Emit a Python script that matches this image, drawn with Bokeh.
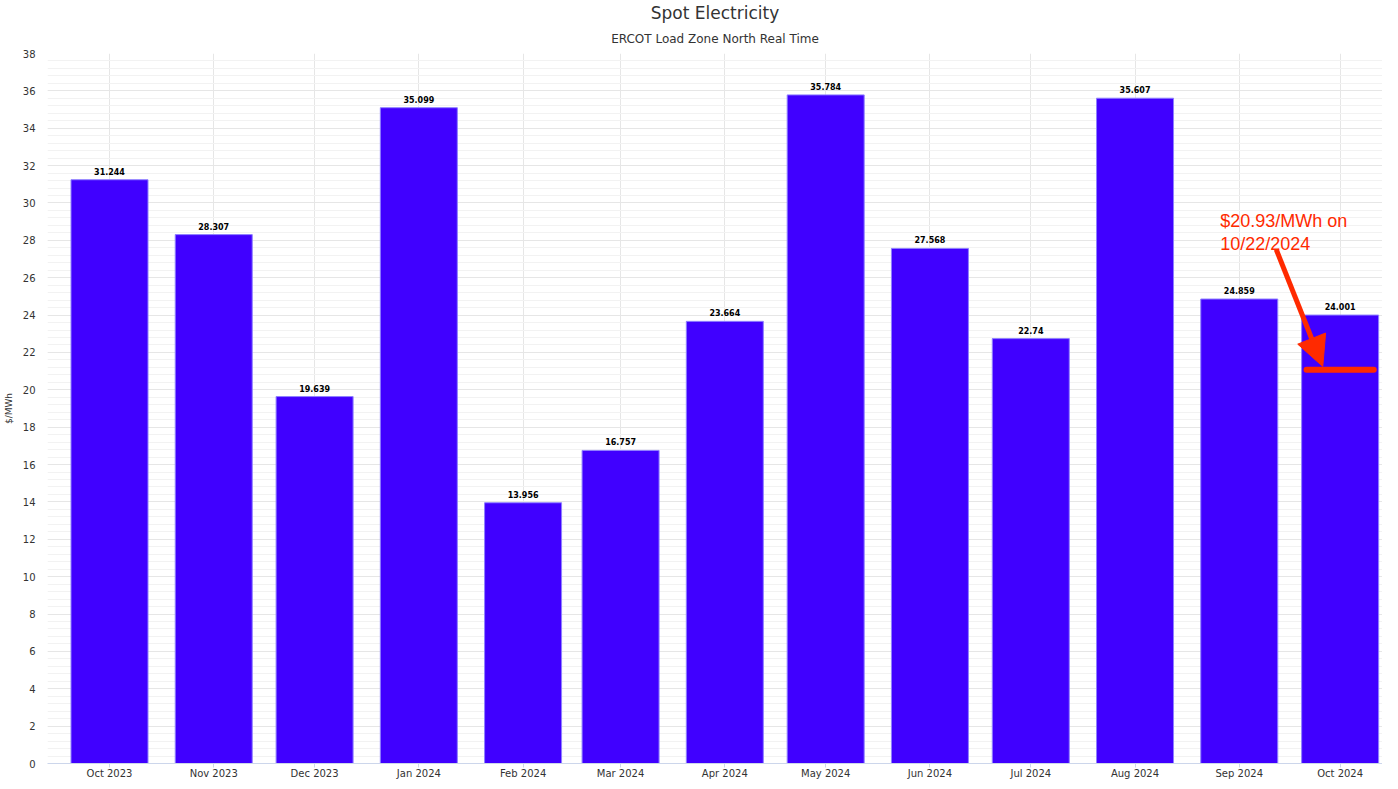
import pandas as pd
from bokeh.plotting import figure
from bokeh.models import (ColumnDataSource, Title, Label, Arrow, NormalHead,
                          SingleIntervalTicker, MonthsTicker, DatetimeTickFormatter, Range1d)
from bokeh.core.properties import value
from bokeh.embed import file_html
from bokeh.resources import INLINE

# data
months = ["2023-10-01", "2023-11-01", "2023-12-01", "2024-01-01", "2024-02-01", "2024-03-01", "2024-04-01",
          "2024-05-01", "2024-06-01", "2024-07-01", "2024-08-01", "2024-09-01", "2024-10-01"]
prices = [31.244, 28.307, 19.639, 35.099, 13.956, 16.757, 23.664, 35.784, 27.568, 22.74, 35.607, 24.859, 24.001]

# annotation (spot price of 10/22/2024, drawn over the last bar)
note_lines = ["$20.93/MWh on", "10/22/2024"]
note_x = "2024-08-26 08:00"
note_y = [29.03, 27.78]
spot_level = 21.07
arrow_from = ("2024-09-12 00:00", 27.51)
arrow_to = ("2024-09-25 20:00", 21.25)

DAY = 86400000
RED = "#ff2a00"
BAR = "#4000ff"
FONT = "DejaVu Sans"

dates = pd.to_datetime(months)
src = ColumnDataSource({"x": dates, "y": prices, "label": [str(v) for v in prices]})

p = figure(width=1382, height=781, x_axis_type="datetime", title=None,
           toolbar_location=None, output_backend="svg",
           min_border_left=40, min_border_right=0, min_border_top=46, min_border_bottom=18)
p.x_range = Range1d(dates[0] - pd.Timedelta(days=18.44), dates[0] + pd.Timedelta(days=378.6))
p.y_range = Range1d(0, 38)
p.outline_line_color = None
p.background_fill_color = "white"

# titles
p.add_layout(Title(text="ERCOT Load Zone North Real Time", align="center", text_font=FONT,
                   text_font_size="12px", text_font_style="normal", text_color="#333333", standoff=15), "above")
p.add_layout(Title(text="Spot Electricity", align="center", text_font=FONT,
                   text_font_size="17px", text_font_style="normal", text_color="#333333", standoff=0), "above")

# bars + value labels
p.vbar(x="x", top="y", width=22.9 * DAY, source=src, fill_color=BAR, line_color="#8f80ff", line_width=1)
p.text(x="x", y="y", text="label", source=src, text_align="center", text_baseline="bottom", y_offset=-5,
       text_font=value(FONT), text_font_size="8px", text_font_style="bold", text_color="#000000")

# axes
p.yaxis.ticker = SingleIntervalTicker(interval=2, num_minor_ticks=5)
p.yaxis.axis_label = "$/MWh"
p.yaxis.axis_label_text_font = FONT
p.yaxis.axis_label_text_font_size = "9px"
p.yaxis.axis_label_text_font_style = "normal"
p.yaxis.axis_label_text_color = "#333333"
p.yaxis.axis_label_standoff = 6
p.yaxis.axis_line_color = None
p.yaxis.major_tick_line_color = None
p.yaxis.major_tick_out = 0
p.yaxis.major_tick_in = 0
p.yaxis.minor_tick_line_color = None
p.yaxis.minor_tick_out = 0
p.yaxis.major_label_standoff = 12
p.yaxis.major_label_text_font = FONT
p.yaxis.major_label_text_font_size = "10px"
p.yaxis.major_label_text_color = "#333333"

p.xaxis.ticker = MonthsTicker(months=list(range(12)))
p.xaxis.formatter = DatetimeTickFormatter(months="%b %Y", days="%b %Y")
p.xaxis.axis_line_color = "#ccd6eb"
p.xaxis.major_tick_line_color = "#ccd6eb"
p.xaxis.major_tick_out = 4
p.xaxis.major_tick_in = 0
p.xaxis.minor_tick_line_color = None
p.xaxis.minor_tick_out = 0
p.xaxis.major_label_standoff = 0
p.xaxis.major_label_text_line_height = 1.0
p.xaxis.major_label_text_font = FONT
p.xaxis.major_label_text_font_size = "10px"
p.xaxis.major_label_text_color = "#333333"

p.ygrid.grid_line_color = "#e6e6e6"
p.ygrid.minor_grid_line_color = "#f2f2f2"
p.xgrid.grid_line_color = "#e6e6e6"

# annotation
last = dates[-1]
p.segment(x0=[last - pd.Timedelta(days=10)], y0=[spot_level], x1=[last + pd.Timedelta(days=10)], y1=[spot_level],
          line_color=RED, line_width=6, line_cap="round")
p.add_layout(Arrow(end=NormalHead(size=30, fill_color=RED, line_color=RED),
                   x_start=pd.Timestamp(arrow_from[0]).value // 10**6, y_start=arrow_from[1],
                   x_end=pd.Timestamp(arrow_to[0]).value // 10**6, y_end=arrow_to[1],
                   line_color=RED, line_width=5))
for txt, ty in zip(note_lines, note_y):
    p.add_layout(Label(x=pd.Timestamp(note_x).value // 10**6, y=ty, text=txt, text_align="left",
                       text_baseline="alphabetic", text_font="Liberation Sans", text_font_size="18px",
                       text_color=RED))

open("out.html", "w").write(file_html(p, INLINE))
